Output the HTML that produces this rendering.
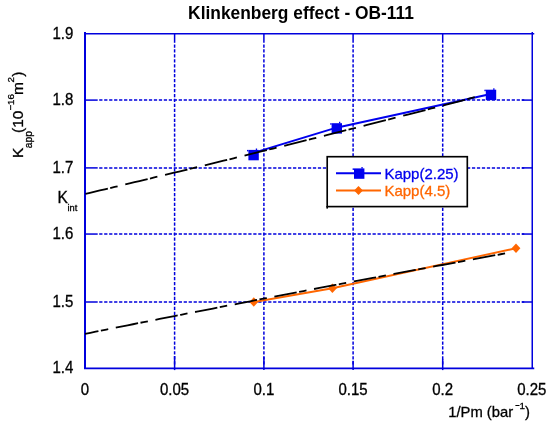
<!DOCTYPE html><html><head><meta charset="utf-8"><style>html,body{margin:0;padding:0;background:#fff;width:550px;height:425px;overflow:hidden}svg{display:block}text{font-family:"Liberation Sans",Arial,sans-serif;stroke:#000;stroke-width:0.3px}</style></head><body>
<svg width="550" height="425" viewBox="0 0 550 425">
<rect width="550" height="425" fill="#fff"/>
<g stroke="#0000DD" stroke-width="1.5" fill="none">
<line x1="174.60" y1="44.40" x2="174.60" y2="365.30" stroke-dasharray="3.25 1.7" stroke-dashoffset="0.00"/>
<line x1="263.90" y1="44.40" x2="263.90" y2="365.30" stroke-dasharray="3.25 1.7" stroke-dashoffset="0.00"/>
<line x1="353.10" y1="44.40" x2="353.10" y2="365.30" stroke-dasharray="3.25 1.7" stroke-dashoffset="0.00"/>
<line x1="442.70" y1="44.40" x2="442.70" y2="365.30" stroke-dasharray="3.25 1.7" stroke-dashoffset="0.00"/>
<line x1="99.20" y1="302.00" x2="524.25" y2="302.00" stroke-dasharray="3.25 1.72" stroke-dashoffset="0"/>
<line x1="99.20" y1="234.05" x2="524.25" y2="234.05" stroke-dasharray="3.25 1.72" stroke-dashoffset="0"/>
<line x1="99.20" y1="167.90" x2="524.25" y2="167.90" stroke-dasharray="3.25 1.72" stroke-dashoffset="0"/>
<line x1="99.20" y1="100.10" x2="524.25" y2="100.10" stroke-dasharray="3.25 1.72" stroke-dashoffset="0"/>
<line x1="174.60" y1="33.80" x2="174.60" y2="42.80"/>
<line x1="174.60" y1="356.00" x2="174.60" y2="370.10"/>
<line x1="263.90" y1="33.80" x2="263.90" y2="42.80"/>
<line x1="263.90" y1="356.80" x2="263.90" y2="370.10"/>
<line x1="353.10" y1="33.80" x2="353.10" y2="42.80"/>
<line x1="353.10" y1="360.70" x2="353.10" y2="370.10"/>
<line x1="442.70" y1="33.80" x2="442.70" y2="42.80"/>
<line x1="442.70" y1="359.00" x2="442.70" y2="370.10"/>
<line x1="85.00" y1="302.00" x2="97.70" y2="302.00"/>
<line x1="521.95" y1="302.00" x2="532.25" y2="302.00"/>
<line x1="85.00" y1="234.05" x2="97.70" y2="234.05"/>
<line x1="521.95" y1="234.05" x2="532.25" y2="234.05"/>
<line x1="85.00" y1="167.90" x2="97.70" y2="167.90"/>
<line x1="521.95" y1="167.90" x2="532.25" y2="167.90"/>
<line x1="85.00" y1="100.10" x2="97.70" y2="100.10"/>
<line x1="521.95" y1="100.10" x2="532.25" y2="100.10"/>
</g>
<g stroke="#0000DD" fill="none">
<line x1="85.00" y1="32.00" x2="85.00" y2="369.10" stroke-width="2"/>
<line x1="532.25" y1="32.00" x2="532.25" y2="369.10" stroke-width="1.5"/>
<line x1="84.00" y1="33.80" x2="534.25" y2="33.80" stroke-width="1.5"/>
<line x1="84.00" y1="368.30" x2="534.25" y2="368.30" stroke-width="1.7"/>
</g>
<polyline points="253.5,152.8 336.4,127.7 490.8,94.0" fill="none" stroke="#0000EE" stroke-width="1.9"/>
<rect x="248.40" y="149.90" width="10.40" height="10.40" fill="#0000EE"/><rect x="247.00" y="149.90" width="1.40" height="1.5" fill="#0000EE"/><rect x="255.80" y="148.50" width="1.3" height="1.6" fill="#0000EE"/>
<rect x="331.60" y="123.20" width="10.40" height="10.40" fill="#0000EE"/><rect x="330.20" y="123.20" width="1.40" height="1.5" fill="#0000EE"/><rect x="339.00" y="121.80" width="1.3" height="1.6" fill="#0000EE"/>
<rect x="485.80" y="89.70" width="10.40" height="10.40" fill="#0000EE"/><rect x="484.40" y="89.70" width="1.40" height="1.5" fill="#0000EE"/><rect x="493.20" y="88.30" width="1.3" height="1.6" fill="#0000EE"/>
<polyline points="253.8,302.0 332.4,288.3 516.0,248.2" fill="none" stroke="#FF6600" stroke-width="1.9"/>
<polygon points="253.8,297.3 258.2,302.0 253.8,306.7 249.4,302.0" fill="#FF6600"/>
<polygon points="332.4,283.6 336.8,288.3 332.4,293.0 328.0,288.3" fill="#FF6600"/>
<polygon points="516.0,243.5 520.4,248.2 516.0,252.9 511.6,248.2" fill="#FF6600"/>
<polyline points="85.00,193.96 89.95,192.80 94.90,191.63 99.85,190.46 104.80,189.29 109.75,188.12 114.70,186.94 119.65,185.77 124.59,184.59 129.54,183.41 134.49,182.23 139.44,181.05 144.39,179.86 149.34,178.68 154.29,177.49 159.24,176.30 164.19,175.11 169.14,173.92 174.09,172.73 179.04,171.53 183.99,170.34 188.94,169.14 193.89,167.94 198.84,166.74 203.78,165.53 208.73,164.33 213.68,163.12 218.63,161.91 223.58,160.71 228.53,159.49 233.48,158.28 238.43,157.07 243.38,155.85 248.33,154.63 253.28,153.42 258.23,152.20 263.18,150.97 268.13,149.75 273.08,148.52 278.03,147.30 282.97,146.07 287.92,144.84 292.87,143.61 297.82,142.37 302.77,141.14 307.72,139.90 312.67,138.66 317.62,137.42 322.57,136.18 327.52,134.94 332.47,133.70 337.42,132.45 342.37,131.20 347.32,129.95 352.27,128.70 357.22,127.45 362.16,126.19 367.11,124.94 372.06,123.68 377.01,122.42 381.96,121.16 386.91,119.90 391.86,118.64 396.81,117.37 401.76,116.10 406.71,114.84 411.66,113.57 416.61,112.29 421.56,111.02 426.51,109.75 431.46,108.47 436.41,107.19 441.35,105.91 446.30,104.63 451.25,103.35 456.20,102.06 461.15,100.78 466.10,99.49 471.05,98.20 476.00,96.91" fill="none" stroke="#000" stroke-width="1.8" stroke-dasharray="23 2.4 7.6 7.9" stroke-dashoffset="-0.5"/>
<polyline points="85.00,333.83 90.33,332.76 95.66,331.69 100.99,330.62 106.32,329.56 111.65,328.49 116.97,327.43 122.30,326.37 127.63,325.31 132.96,324.25 138.29,323.19 143.62,322.14 148.95,321.08 154.28,320.03 159.61,318.97 164.94,317.92 170.27,316.87 175.59,315.82 180.92,314.77 186.25,313.73 191.58,312.68 196.91,311.64 202.24,310.60 207.57,309.56 212.90,308.52 218.23,307.48 223.56,306.44 228.89,305.40 234.22,304.37 239.54,303.33 244.87,302.30 250.20,301.27 255.53,300.24 260.86,299.21 266.19,298.19 271.52,297.16 276.85,296.13 282.18,295.11 287.51,294.09 292.84,293.07 298.16,292.05 303.49,291.03 308.82,290.01 314.15,289.00 319.48,287.98 324.81,286.97 330.14,285.96 335.47,284.95 340.80,283.94 346.13,282.93 351.46,281.92 356.78,280.92 362.11,279.91 367.44,278.91 372.77,277.91 378.10,276.91 383.43,275.91 388.76,274.91 394.09,273.91 399.42,272.92 404.75,271.92 410.08,270.93 415.41,269.94 420.73,268.95 426.06,267.96 431.39,266.97 436.72,265.98 442.05,265.00 447.38,264.02 452.71,263.03 458.04,262.05 463.37,261.07 468.70,260.09 474.03,259.11 479.35,258.14 484.68,257.16 490.01,256.19 495.34,255.22 500.67,254.25 506.00,253.28" fill="none" stroke="#000" stroke-width="1.8" stroke-dasharray="22.7 2.5 7.5 7.7" stroke-dashoffset="9"/>
<rect x="327.2" y="156.7" width="140.1" height="49.9" fill="#fff" stroke="#000" stroke-width="1.65"/>
<line x1="327.2" y1="206" x2="327.2" y2="208.6" stroke="#000" stroke-width="1.65"/>
<line x1="336" y1="173.3" x2="381" y2="173.3" stroke="#0000EE" stroke-width="1.9"/>
<rect x="354.00" y="168.40" width="10.40" height="10.40" fill="#0000EE"/><rect x="352.60" y="168.40" width="1.40" height="1.5" fill="#0000EE"/><rect x="361.40" y="167.00" width="1.3" height="1.6" fill="#0000EE"/>
<line x1="336" y1="190.5" x2="381" y2="190.5" stroke="#FF6600" stroke-width="1.9"/>
<polygon points="358.5,185.9 362.9,190.5 358.5,195.1 354.1,190.5" fill="#FF6600"/>
<text transform="translate(384.40,178.80) scale(1,1.000)" font-size="15.00" fill="#0000EE" style="stroke:#0000EE">Kapp(2.25)</text>
<text transform="translate(384.40,196.00) scale(1,1.000)" font-size="15.00" fill="#FF6600" style="stroke:#FF6600">Kapp(4.5)</text>
<text transform="translate(188.10,18.60) scale(1,1.030)" font-size="17.37" fill="#000" font-weight="bold" style="stroke:none">Klinkenberg effect - OB-111</text>
<text transform="translate(73.30,373.20) scale(1,1.040)" font-size="15.00" fill="#000" text-anchor="end">1.4</text>
<text transform="translate(73.30,306.90) scale(1,1.040)" font-size="15.00" fill="#000" text-anchor="end">1.5</text>
<text transform="translate(73.30,238.95) scale(1,1.040)" font-size="15.00" fill="#000" text-anchor="end">1.6</text>
<text transform="translate(73.30,172.80) scale(1,1.040)" font-size="15.00" fill="#000" text-anchor="end">1.7</text>
<text transform="translate(73.30,105.00) scale(1,1.040)" font-size="15.00" fill="#000" text-anchor="end">1.8</text>
<text transform="translate(73.30,38.70) scale(1,1.040)" font-size="15.00" fill="#000" text-anchor="end">1.9</text>
<text transform="translate(85.00,394.50) scale(1,1.040)" font-size="15.00" fill="#000" text-anchor="middle">0</text>
<text transform="translate(174.60,394.50) scale(1,1.040)" font-size="15.00" fill="#000" text-anchor="middle">0.05</text>
<text transform="translate(263.90,394.50) scale(1,1.040)" font-size="15.00" fill="#000" text-anchor="middle">0.1</text>
<text transform="translate(353.10,394.50) scale(1,1.040)" font-size="15.00" fill="#000" text-anchor="middle">0.15</text>
<text transform="translate(442.70,394.50) scale(1,1.040)" font-size="15.00" fill="#000" text-anchor="middle">0.2</text>
<text transform="translate(531.85,394.50) scale(1,1.040)" font-size="15.00" fill="#000" text-anchor="middle">0.25</text>
<text font-size="14.8"><tspan x="448.2" y="416.8">1/Pm (bar</tspan><tspan x="515.3" y="407.6" font-size="7.5">−</tspan><tspan x="519.6" y="408.5" font-size="9.8">1</tspan><tspan x="524.9" y="416.8">)</tspan></text>
<text transform="translate(22.5,156.9) rotate(-90)"><tspan x="-1.07" y="0.00" font-size="15.5">K</tspan><tspan x="8.77" y="9.40" font-size="10.2">app</tspan><tspan x="23.94" y="0.00" font-size="15.5">(</tspan><tspan x="29.07" y="0.00" font-size="15.5">10</tspan><tspan x="46.60" y="-8.80" font-size="9.8">−</tspan><tspan x="51.93" y="-8.70" font-size="9.8">16</tspan><tspan x="61.97" y="0.00" font-size="15.5">m</tspan><tspan x="74.50" y="-8.40" font-size="9.8">2</tspan><tspan x="80.20" y="0.00" font-size="15.5">)</tspan></text>
<text transform="translate(57.4,202.8) scale(1,1.03)" font-size="15.5">K</text>
<text x="67.5" y="211.3" font-size="9.3">int</text>
</svg></body></html>
